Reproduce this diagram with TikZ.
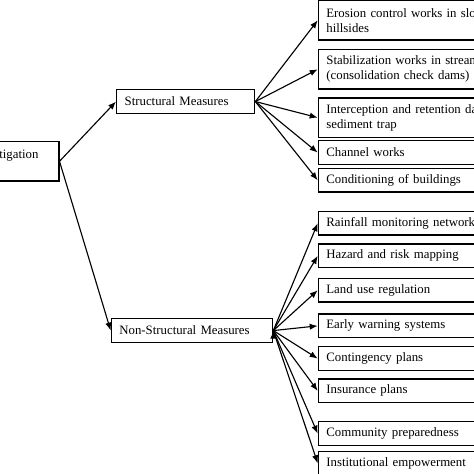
\documentclass[tikz,border=0pt]{standalone}
\usepackage{fontspec}
\setmainfont{Liberation Serif}
\usetikzlibrary{arrows.meta}

\tikzset{
  box/.style={draw, line width=1.1pt, anchor=north west, align=left,
    text width=160pt, inner xsep=6.4pt, minimum height=19pt,
    font=\fontsize{10.25}{12}\selectfont},
  tallbox/.style={box, minimum height=31.4pt},
  >={Latex[length=6.4pt,width=5pt]}
}

\begin{document}
\begin{tikzpicture}[x=0.8pt, y=-0.8pt]
\clip (0,0) rectangle (474,474);

\draw (59.5,141) node[box, anchor=north east, text width=41.2pt, minimum height=31.4pt] (root) {tigation\\\mbox{}} ;

\draw (116,89) node[box, text width=97.6pt] (str) {Structural Measures} ;
\draw (110.7,318) node[box, text width=116.2pt] (ns) {Non-Structural Measures} ;

\draw (317.7,0) node[tallbox] (er) {Erosion control works in slopes and\\hillsides} ;
\draw (317.7,49) node[tallbox] (sw) {Stabilization works in streams\\(consolidation check dams)} ;
\draw (317.7,97.3) node[tallbox] (ir) {Interception and retention dams,\\sediment trap} ;
\draw (317.7,140) node[box] (cw) {Channel works} ;
\draw (317.7,167.7) node[box] (cb) {Conditioning of buildings} ;

\draw (317.7,210.7) node[box] (rf) {Rainfall monitoring network} ;
\draw (317.7,243.3) node[box] (hz) {Hazard and risk mapping} ;
\draw (317.7,277.7) node[box] (lu) {Land use regulation} ;
\draw (317.7,313.3) node[box] (ew) {Early warning systems} ;
\draw (317.7,346) node[box] (cp) {Contingency plans} ;
\draw (317.7,378.3) node[box] (ip) {Insurance plans} ;
\draw (317.7,421) node[box] (cm) {Community preparedness} ;
\draw (317.7,450.7) node[box] (ie) {Institutional empowerment} ;

\draw[->, line width=0.9pt]
      (root.east) edge (str.west)
      (root.east) edge (ns.west)

      (str.east) edge (er.west)
      (str.east) edge (sw.west)
      (str.east) edge (ir.west)
      (str.east) edge (cw.west)
      (str.east) edge (cb.west)

      (ns.east) edge (rf.west)
      (ns.east) edge (hz.west)
      (ns.east) edge (lu.west)
      (ns.east) edge (ew.west)
      (ns.east) edge (cp.west)
      (ns.east) edge (ip.west)
      (ns.east) edge (cm.west)
      (ns.east) edge (ie.west) ;
\end{tikzpicture}
\end{document}
